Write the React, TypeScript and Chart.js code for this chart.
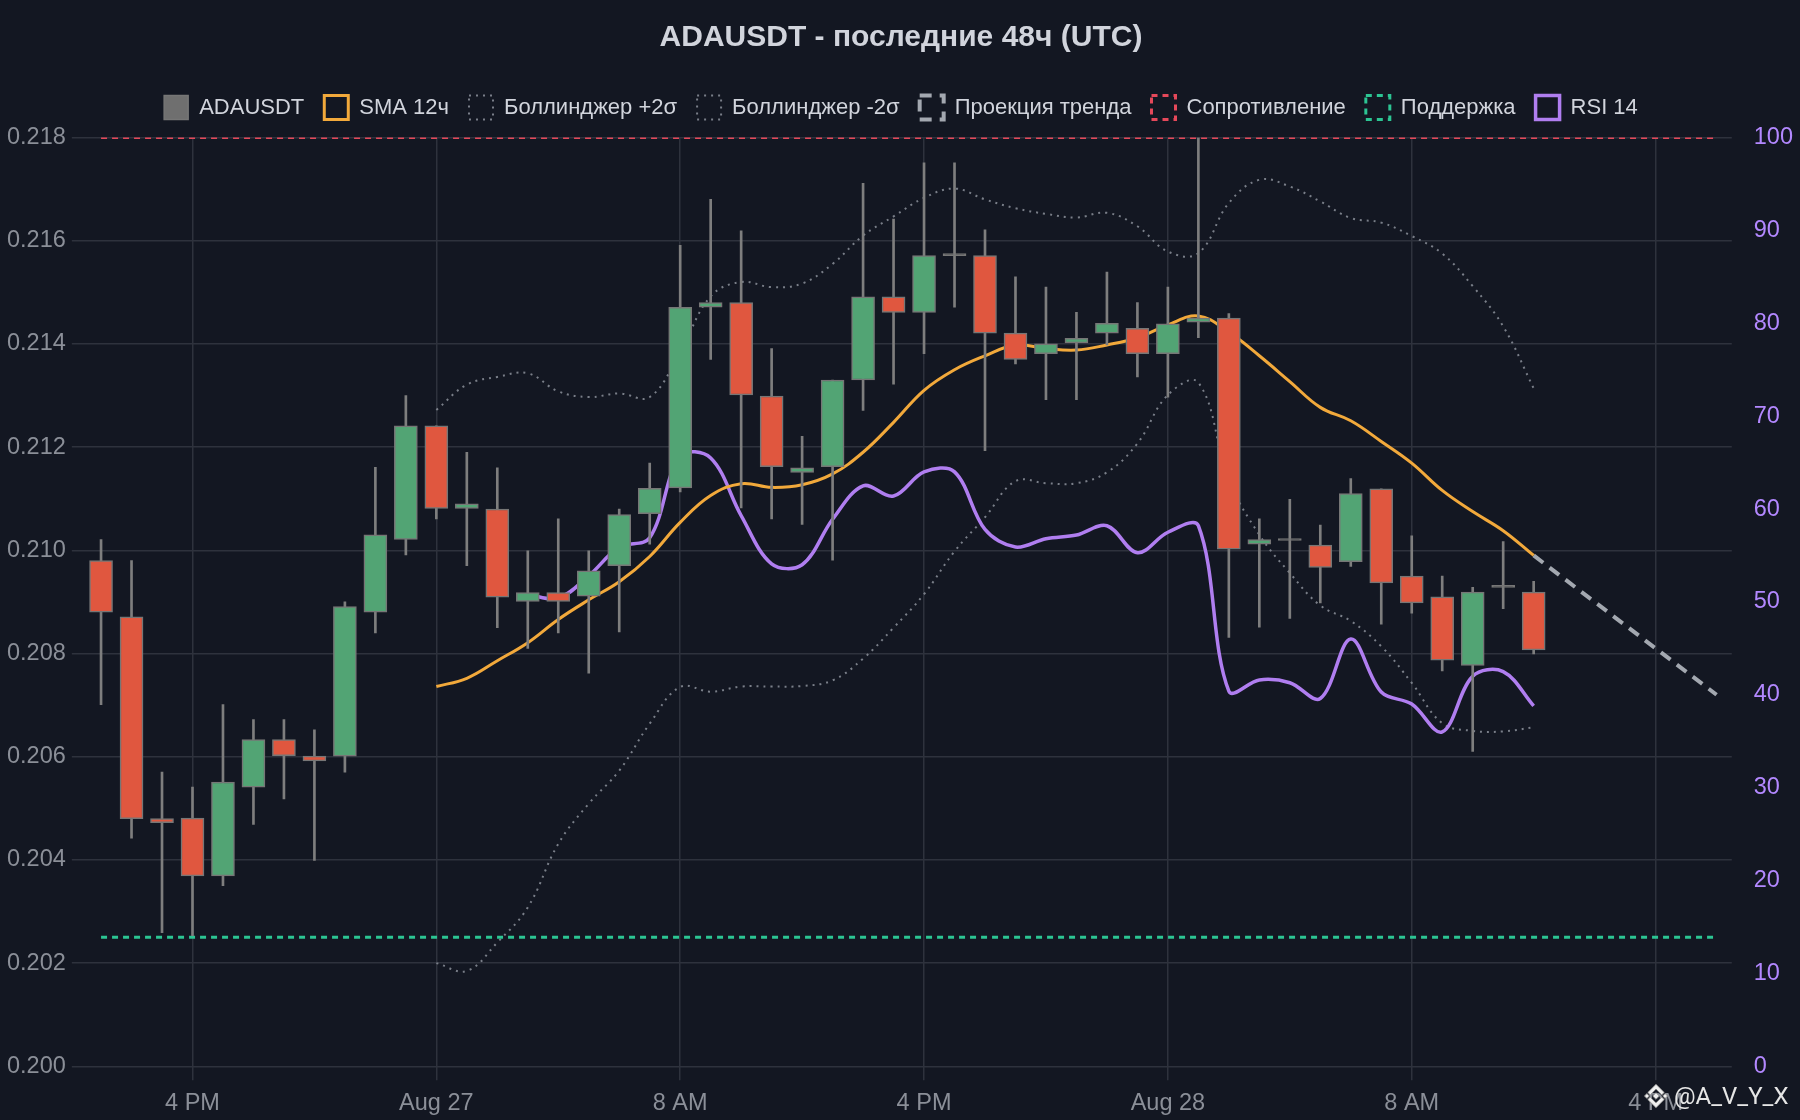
import React, { useEffect, useRef } from 'react'
import Chart from 'chart.js/auto'

// hourly candles, Aug 26 13:00 UTC .. Aug 28 12:00 UTC
const HOUR = 3600 * 1000
const FIRST_CANDLE = Date.UTC(2025, 7, 26, 13)

const opens = [
  0.2098, 0.20871, 0.2048, 0.20481, 0.20369, 0.20541, 0.20633, 0.20601, 0.20601, 0.2088, 0.21021, 0.21241,
  0.21081, 0.2108, 0.20901, 0.20918, 0.20911, 0.2097, 0.21071, 0.21121, 0.21471, 0.2148, 0.21299, 0.21151,
  0.21162, 0.2133, 0.21491, 0.21461, 0.21571, 0.21571, 0.21421, 0.21381, 0.21402, 0.21421, 0.2143, 0.21381,
  0.21442, 0.2145, 0.21012, 0.21019, 0.2101, 0.20978, 0.21119, 0.2095, 0.2091, 0.20777, 0.20928, 0.20919
]
const highs = [
  0.21021, 0.2098, 0.2057, 0.20541, 0.20701, 0.20672, 0.20672, 0.20652, 0.209, 0.21161, 0.213, 0.21241,
  0.2119, 0.2116, 0.20999, 0.21061, 0.20999, 0.2108, 0.21169, 0.21591, 0.2168, 0.21619, 0.21391, 0.21221,
  0.2133, 0.21711, 0.21642, 0.21751, 0.21751, 0.21621, 0.2153, 0.2151, 0.21461, 0.21539, 0.2148, 0.2151,
  0.218, 0.21459, 0.21061, 0.21099, 0.21049, 0.21139, 0.21119, 0.21028, 0.2095, 0.20928, 0.21017, 0.2094
]
const lows = [
  0.20701, 0.20442, 0.20259, 0.20253, 0.2035, 0.20469, 0.20518, 0.20399, 0.2057, 0.2084, 0.20991, 0.21061,
  0.2097, 0.2085, 0.2081, 0.2084, 0.20762, 0.20842, 0.21012, 0.21113, 0.2137, 0.21082, 0.21061, 0.2105,
  0.20981, 0.21271, 0.21322, 0.21381, 0.21471, 0.21193, 0.21361, 0.21292, 0.21292, 0.21398, 0.21336, 0.21297,
  0.21412, 0.20831, 0.20851, 0.20868, 0.20898, 0.20969, 0.20857, 0.20878, 0.20766, 0.2061, 0.20887, 0.20799
]
const closes = [
  0.2088, 0.2048, 0.20472, 0.20369, 0.20551, 0.20633, 0.20602, 0.20592, 0.20891, 0.2103, 0.21241, 0.21081,
  0.2109, 0.20909, 0.20918, 0.20901, 0.2096, 0.21069, 0.2112, 0.21471, 0.2148, 0.21301, 0.21162, 0.2116,
  0.2133, 0.21491, 0.21461, 0.21571, 0.21571, 0.21421, 0.2137, 0.214, 0.21411, 0.2144, 0.21381, 0.21439,
  0.2145, 0.21002, 0.21021, 0.21019, 0.20967, 0.2111, 0.20937, 0.20898, 0.20787, 0.20919, 0.20928, 0.20807
]

// indicators start at candle 12 (SMA / Bollinger) and candle 15 (RSI)
const sma12 = [
  0.20736, 0.20752, 0.20786, 0.20821, 0.20866, 0.20904, 0.20939, 0.20988, 0.21054, 0.21106, 0.21129, 0.21122,
  0.21127, 0.21148, 0.2119, 0.21248, 0.2131, 0.2135, 0.21377, 0.21398, 0.21391, 0.21388, 0.21398, 0.21412,
  0.21437, 0.21454, 0.21423, 0.21377, 0.21327, 0.21277, 0.21251, 0.21211, 0.21169, 0.21116, 0.21075, 0.21038,
  0.2099
]
const bollUpper = [
  0.21272, 0.21321, 0.21336, 0.21343, 0.21308, 0.21297, 0.21304, 0.21297, 0.21385, 0.21492, 0.2152, 0.2151,
  0.21517, 0.21555, 0.2161, 0.21647, 0.21683, 0.21701, 0.2168, 0.21663, 0.21652, 0.21645, 0.21654, 0.21628,
  0.21579, 0.21576, 0.21673, 0.21718, 0.21705, 0.21676, 0.21644, 0.21635, 0.21609, 0.21575, 0.21512, 0.21434,
  0.21314
]
const bollLower = [
  0.202, 0.20185, 0.2024, 0.20308, 0.20431, 0.20509, 0.20573, 0.20664, 0.20735, 0.20726, 0.20736, 0.20736,
  0.20737, 0.20748, 0.2079, 0.2085, 0.20915, 0.20998, 0.21064, 0.21134, 0.2113, 0.2113, 0.21151, 0.21207,
  0.21301, 0.21325, 0.21137, 0.2103, 0.20956, 0.20893, 0.20863, 0.20814, 0.20743, 0.20665, 0.2065, 0.20649,
  0.20657
]
const rsi14 = [
  50.8, 50.4, 52.8, 55.9, 56.9, 65.7, 65.5, 59.3, 54.1, 54.0, 58.9, 62.5,
  61.4, 64.0, 64.0, 57.8, 55.9, 56.8, 57.2, 58.2, 55.3, 57.5, 58.2, 40.4,
  41.6, 41.3, 39.6, 46.0, 40.3, 39.0, 36.0, 42.0, 42.5, 38.8
]

const projectionValues = [0.2099, 0.2072]
const projectionHours = 6
const resistance = 0.218
const support = 0.2025

const xTickLabels = ['4 PM', 'Aug 27', '8 AM', '4 PM', 'Aug 28', '8 AM', '4 PM']
const xTickStart = Date.UTC(2025, 7, 26, 16)

const times = opens.map((_, i) => FIRST_CANDLE + i * HOUR)
const lastTime = times[times.length - 1]
const projEnd = lastTime + projectionHours * HOUR

const GREEN = '#52a474'
const RED = '#e0573f'
const GRAY = '#767676'
const FONT = "'Liberation Sans', Arial, sans-serif"
const TICK_SIZE = 23.5

const candleColor = (ctx: any) => {
  const i = ctx.dataIndex
  if (closes[i] > opens[i]) return GREEN
  if (closes[i] < opens[i]) return RED
  return GRAY
}

// pushes the plot area a bit further below the legend
const legendGap = {
  id: 'legendGap',
  beforeInit(chart: any) {
    const legend = chart.legend
    if (!legend) return
    const fit = legend.fit
    legend.fit = function () {
      fit.call(legend)
      legend.height += 8
    }
  }
}

const App: React.FC = () => {
  const canvasRef = useRef<HTMLCanvasElement | null>(null)

  useEffect(() => {
    if (!canvasRef.current) return
    const smaTimes = times.slice(12 - 1)
    const rsiTimes = times.slice(15 - 1)

    const chart = new Chart(canvasRef.current, {
      type: 'bar',
      plugins: [legendGap],
      data: {
        datasets: [
          {
            type: 'bar',
            label: 'ADAUSDT',
            data: times.map((t, i) => ({ x: t, y: [opens[i], closes[i]] })) as any,
            backgroundColor: candleColor,
            borderColor: GRAY,
            borderWidth: 1.5,
            borderSkipped: false,
            barThickness: 23,
            minBarLength: 2,
            grouped: false,
            yAxisID: 'y',
            order: 1
          },
          {
            type: 'line',
            label: 'SMA 12ч',
            data: smaTimes.map((t, i) => ({ x: t, y: sma12[i] })),
            borderColor: '#f2a93b',
            backgroundColor: 'transparent',
            borderWidth: 3,
            pointRadius: 0,
            tension: 0.4,
            yAxisID: 'y',
            order: 3
          },
          {
            type: 'line',
            label: 'Боллинджер +2σ',
            data: smaTimes.map((t, i) => ({ x: t, y: bollUpper[i] })),
            borderColor: '#7a7f89',
            backgroundColor: 'transparent',
            borderWidth: 2,
            borderDash: [2, 5],
            pointRadius: 0,
            tension: 0.4,
            yAxisID: 'y',
            order: 5
          },
          {
            type: 'line',
            label: 'Боллинджер -2σ',
            data: smaTimes.map((t, i) => ({ x: t, y: bollLower[i] })),
            borderColor: '#7a7f89',
            backgroundColor: 'transparent',
            borderWidth: 2,
            borderDash: [2, 5],
            pointRadius: 0,
            tension: 0.4,
            yAxisID: 'y',
            order: 5
          },
          {
            type: 'line',
            label: 'Проекция тренда',
            data: [
              { x: lastTime, y: projectionValues[0] },
              { x: projEnd, y: projectionValues[1] }
            ],
            borderColor: '#a3a8b0',
            backgroundColor: 'transparent',
            borderWidth: 4,
            borderDash: [12, 8],
            pointRadius: 0,
            yAxisID: 'y',
            order: 3
          },
          {
            type: 'line',
            label: 'Сопротивление',
            data: [
              { x: times[0], y: resistance },
              { x: projEnd, y: resistance }
            ],
            borderColor: '#e5485a',
            backgroundColor: 'transparent',
            borderWidth: 3,
            borderDash: [6, 5],
            pointRadius: 0,
            yAxisID: 'y',
            order: 4
          },
          {
            type: 'line',
            label: 'Поддержка',
            data: [
              { x: times[0], y: support },
              { x: projEnd, y: support }
            ],
            borderColor: '#2cc593',
            backgroundColor: 'transparent',
            borderWidth: 3,
            borderDash: [6, 5],
            pointRadius: 0,
            yAxisID: 'y',
            order: 4
          },
          {
            type: 'line',
            label: 'RSI 14',
            data: rsiTimes.map((t, i) => ({ x: t, y: rsi14[i] })),
            borderColor: '#b07ef0',
            backgroundColor: 'transparent',
            borderWidth: 3.5,
            pointRadius: 0,
            tension: 0.35,
            yAxisID: 'y1',
            order: 3
          },
          {
            type: 'bar',
            label: 'wicks',
            data: times.map((t, i) => ({ x: t, y: [lows[i], highs[i]] })) as any,
            backgroundColor: '#7e7e7e',
            borderWidth: 0,
            barThickness: 2,
            grouped: false,
            yAxisID: 'y',
            order: 2
          }
        ] as any
      },
      options: {
        animation: false,
        responsive: true,
        maintainAspectRatio: false,
        layout: { padding: { left: 1, right: -1, top: 0, bottom: -6.5 } },
        plugins: {
          title: {
            display: true,
            text: 'ADAUSDT - последние 48ч (UTC)',
            color: '#d1d4dc',
            font: { family: FONT, size: 30, weight: 'bold' },
            padding: { top: 20, bottom: 19.5 }
          },
          legend: {
            display: true,
            position: 'top',
            labels: {
              color: '#d1d4dc',
              font: { family: FONT, size: 22 },
              boxWidth: 24,
              boxHeight: 24,
              padding: 20,
              generateLabels: (c) => {
                const items = Chart.defaults.plugins.legend.labels.generateLabels(c)
                return items
                  .filter((it) => it.text !== 'wicks')
                  .sort((a, b) => (a.datasetIndex ?? 0) - (b.datasetIndex ?? 0))
                  .map((it) => (it.datasetIndex === 0 ? { ...it, fillStyle: '#6f6f6f', strokeStyle: GRAY } : it))
              }
            }
          },
          tooltip: { enabled: false }
        },
        scales: {
          x: {
            type: 'linear',
            offset: false,
            min: FIRST_CANDLE - HOUR / 2,
            max: projEnd + HOUR / 2,
            afterBuildTicks: (scale) => {
              scale.ticks = xTickLabels.map((_, k) => ({ value: xTickStart + k * 8 * HOUR }))
            },
            ticks: {
              color: '#8b8f98',
              font: { family: FONT, size: TICK_SIZE },
              padding: 9,
              maxRotation: 0,
              autoSkip: false,
              callback: (_v, index) => xTickLabels[index]
            },
            grid: { color: '#2e323d', lineWidth: 1.5, tickLength: 14, offset: false },
            border: { display: false }
          },
          y: {
            type: 'linear',
            position: 'left',
            min: 0.2,
            max: 0.218,
            ticks: {
              stepSize: 0.002,
              color: '#8b8f98',
              font: { family: FONT, size: TICK_SIZE },
              padding: 6,
              callback: (v) => Number(v).toFixed(3)
            },
            grid: { color: '#2e323d', lineWidth: 1.5, tickLength: 14 },
            border: { display: false }
          },
          y1: {
            type: 'linear',
            position: 'right',
            min: 0,
            max: 100,
            ticks: {
              stepSize: 10,
              color: '#b388ff',
              font: { family: FONT, size: TICK_SIZE },
              padding: 8
            },
            grid: { drawOnChartArea: false, tickLength: 14, tickColor: 'transparent' },
            border: { display: false }
          }
        }
      }
    })

    return () => {
      chart.destroy()
    }
  }, [])

  return (
    <div
      style={{
        position: 'fixed',
        left: 0,
        top: 0,
        width: 1800,
        height: 1120,
        background: '#131722'
      }}
    >
      <canvas ref={canvasRef} />
      <div
        style={{
          position: 'absolute',
          left: 1642,
          top: 1082,
          display: 'flex',
          alignItems: 'center',
          gap: 4,
          color: '#e6e6e6',
          fontFamily: "Roboto, 'Liberation Sans', sans-serif",
          fontSize: 24,
          lineHeight: '28px'
        }}
      >
        <svg width="28" height="28" viewBox="0 0 126 126">
          <g fill="#f0f0f0" stroke="#8a8a8a" strokeWidth="4">
            <polygon points="63,10 100,47 89,58 63,32 37,58 26,47" />
            <polygon points="63,116 100,79 89,68 63,94 37,68 26,79" />
            <polygon points="63,48 78,63 63,78 48,63" />
            <polygon points="22,52 33,63 22,74 11,63" />
            <polygon points="104,52 115,63 104,74 93,63" />
          </g>
        </svg>
        <span>@A_V_Y_X</span>
      </div>
    </div>
  )
}

export default App
